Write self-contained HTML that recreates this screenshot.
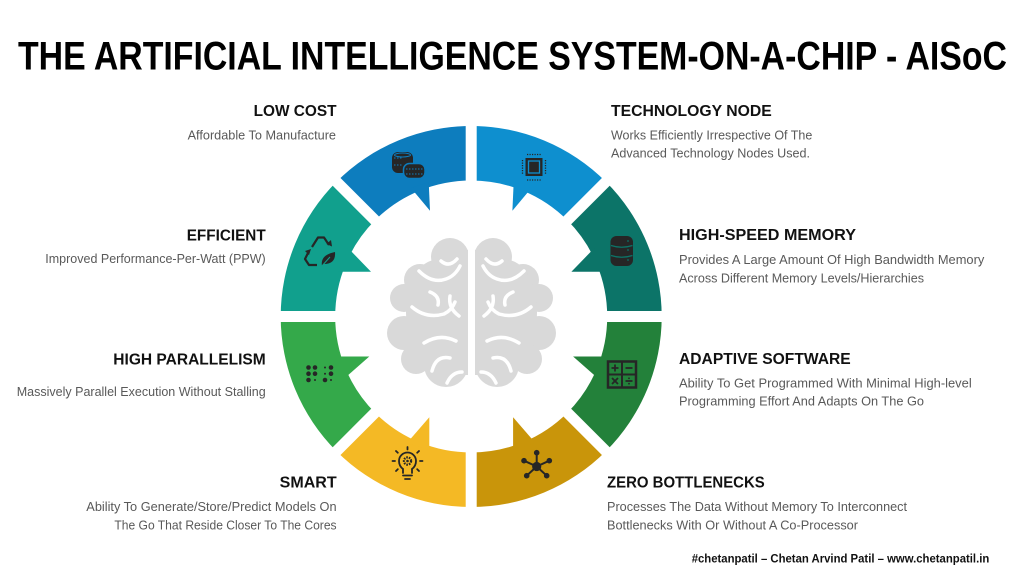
<!DOCTYPE html>
<html><head><meta charset="utf-8"><style>
html,body{margin:0;padding:0;background:#fff;}
svg{display:block;}
.h{font-family:"Liberation Sans",sans-serif;font-weight:bold;font-size:16px;fill:#111;}
.b{font-family:"Liberation Sans",sans-serif;font-size:13px;fill:#595959;}
</style></head><body>
<svg width="1024" height="576" viewBox="0 0 1024 576" xmlns="http://www.w3.org/2000/svg">
<rect width="1024" height="576" fill="#fff"/>
<text x="18" y="69.5" font-family="Liberation Sans, sans-serif" font-weight="bold" font-size="40" fill="#000" textLength="989" lengthAdjust="spacingAndGlyphs">THE ARTIFICIAL INTELLIGENCE SYSTEM-ON-A-CHIP - AISoC</text>

<!-- ring segments -->
<g>
<path fill="#0E8FCF" d="M471.2,126 A190.5,190.5 0 0 1 605.9,181.8 L567.4,220.3 A136,136 0 0 0 471.2,180.5 Z"/>
<polygon fill="#0E8FCF" points="531.4,188 512.4,210.7 513.7,182"/>
<path fill="#0C7468" d="M605.9,181.8 A190.5,190.5 0 0 1 661.7,316.5 L607.2,316.5 A136,136 0 0 0 567.4,220.3 Z"/>
<polygon fill="#0C7468" points="594.4,248 571.4,271.7 604.4,271.7"/>
<path fill="#23813A" d="M661.7,316.5 A190.5,190.5 0 0 1 605.9,451.2 L567.4,412.7 A136,136 0 0 0 607.2,316.5 Z"/>
<polygon fill="#23813A" points="604.4,356.5 573.1,356.5 596.4,377"/>
<path fill="#C9950A" d="M605.9,451.2 A190.5,190.5 0 0 1 471.2,507 L471.2,452.5 A136,136 0 0 0 567.4,412.7 Z"/>
<polygon fill="#C9950A" points="535.4,443 513.1,417.3 513.1,450"/>
<path fill="#F4B925" d="M471.2,507 A190.5,190.5 0 0 1 336.5,451.2 L375,412.7 A136,136 0 0 0 471.2,452.5 Z"/>
<polygon fill="#F4B925" points="407,443 429.3,417.3 429.3,450"/>
<path fill="#34A94A" d="M336.5,451.2 A190.5,190.5 0 0 1 280.7,316.5 L335.2,316.5 A136,136 0 0 0 375,412.7 Z"/>
<polygon fill="#34A94A" points="338,356.5 369.3,356.5 346,377"/>
<path fill="#11A08D" d="M280.7,316.5 A190.5,190.5 0 0 1 336.5,181.8 L375,220.3 A136,136 0 0 0 335.2,316.5 Z"/>
<polygon fill="#11A08D" points="348,248 371,271.7 338,271.7"/>
<path fill="#0D7DBE" d="M336.5,181.8 A190.5,190.5 0 0 1 471.2,126 L471.2,180.5 A136,136 0 0 0 375,220.3 Z"/>
<polygon fill="#0D7DBE" points="411,188 430,210.7 428.7,182"/>
</g>
<!-- dividers -->
<g stroke="#fff" stroke-width="11">
<line x1="471.2" y1="110" x2="471.2" y2="200"/>
<line x1="471.2" y1="433" x2="471.2" y2="523"/>
<line x1="265" y1="316.5" x2="355" y2="316.5"/>
<line x1="587" y1="316.5" x2="677" y2="316.5"/>
<line x1="556.05" y1="401.35" x2="616.16" y2="461.46"/>
<line x1="556.05" y1="231.65" x2="616.16" y2="171.54"/>
<line x1="386.35" y1="401.35" x2="326.24" y2="461.46"/>
<line x1="386.35" y1="231.65" x2="326.24" y2="171.54"/>
</g>

<!-- brain -->
<defs>
<g id="hemi">
  <g fill="#D9D9D9">
    <circle cx="450" cy="257" r="19"/>
    <circle cx="420" cy="280" r="16"/>
    <circle cx="404" cy="298" r="14"/>
    <circle cx="404" cy="333" r="17"/>
    <circle cx="416" cy="359" r="15"/>
    <circle cx="446" cy="365" r="22"/>
    <ellipse cx="436" cy="312" rx="30" ry="52"/>
    <rect x="440" y="250" width="28" height="125"/>
  </g>
  <g fill="none" stroke="#fff" stroke-width="3.5" stroke-linecap="round">
    <path d="M441,261 Q449,268 457,259"/>
    <path d="M419,271 Q432,284 446,279 Q455,276 460,266"/>
    <path d="M412,307 Q426,319 444,314 Q452,310 455,302"/>
    <path d="M450,296 Q448,308 459,316"/>
    <path d="M424,343 Q440,333 456,341"/>
    <path d="M432,371 Q436,355 450,358"/>
    <path d="M447,383 Q452,372 462,372"/>
    <path d="M430,292 Q440,296 438,305"/>
  </g>
  <rect x="468" y="230" width="3.5" height="165" fill="#fff"/>
</g>
</defs>
<use href="#hemi"/>
<use href="#hemi" transform="translate(943,0) scale(-1,1)"/>

<!-- icons -->
<g fill="#262626">
  <!-- coins -->
  <rect x="392" y="152" width="21" height="21" rx="6"/>
  <rect x="403.5" y="163.5" width="21.5" height="15" rx="6" stroke="#0D7DBE" stroke-width="1.5"/>
  <g stroke="#0D7DBE" stroke-width="1" fill="none">
    <line x1="394" y1="158" x2="403" y2="158" stroke-dasharray="1.5 1.5"/>
    <line x1="394" y1="165" x2="402" y2="165" stroke-dasharray="1.5 1.5"/>
    <line x1="406" y1="169" x2="423" y2="169" stroke-dasharray="1.5 1.5"/>
    <line x1="406" y1="174" x2="423" y2="174" stroke-dasharray="1.5 1.5"/>
    <ellipse cx="402.5" cy="155" rx="8" ry="2"/>
  </g>
  <!-- chip -->
  <rect x="525.5" y="158" width="17" height="18"/>
  <rect x="528.5" y="161" width="11" height="12" fill="none" stroke="#0E8FCF" stroke-width="1.3"/>
  <rect x="530.5" y="163" width="7" height="8"/>
  <g stroke="#262626" stroke-width="1.3" stroke-dasharray="1.2 1.3">
    <line x1="527" y1="154.5" x2="541" y2="154.5"/>
    <line x1="527" y1="180" x2="541" y2="180"/>
    <line x1="522.5" y1="160" x2="522.5" y2="175"/>
    <line x1="545.5" y1="160" x2="545.5" y2="175"/>
  </g>
  <!-- database -->
  <rect x="610.5" y="236" width="22.5" height="30" rx="6"/>
  <g stroke="#0C7468" stroke-width="1.3" fill="none">
    <path d="M611,245.5 Q621.7,249 632.5,245.5"/>
    <path d="M611,255.5 Q621.7,259 632.5,255.5"/>
  </g>
  <g fill="#0C7468">
    <circle cx="628" cy="250" r="0.9"/><circle cx="628" cy="260" r="0.9"/><circle cx="628" cy="241" r="0.9"/>
  </g>
  <!-- recycle -->
  <g fill="none" stroke="#262626" stroke-width="2.2" stroke-linejoin="round">
    <path d="M312,247 L318,237.5 L324,237.5 L329,245"/>
    <path d="M308,253 L305,259 L309,265 L317,265"/>
  </g>
  <polygon points="326.5,244 332,246.5 331,240"/>
  <polygon points="305,251 311,249 309,255"/>
  <path d="M322,266 Q320,255 335,252 Q336,264 324,264 Z"/>
  <line x1="321" y1="267" x2="330" y2="257" stroke="#11A08D" stroke-width="1"/>
  <!-- braille -->
  <circle cx="308.5" cy="367.5" r="2.3"/><circle cx="315" cy="367.5" r="2.3"/><circle cx="325" cy="367.5" r="1"/><circle cx="331" cy="367.5" r="2.3"/>
  <circle cx="308.5" cy="373.7" r="2.3"/><circle cx="315" cy="373.7" r="2.3"/><circle cx="325" cy="373.7" r="1"/><circle cx="331" cy="373.7" r="2.3"/>
  <circle cx="308.5" cy="380" r="2.3"/><circle cx="315" cy="380" r="1"/><circle cx="325" cy="380" r="2.3"/><circle cx="331" cy="380" r="1"/>
  <!-- calculator -->
  <rect x="608" y="361.5" width="28" height="26" fill="none" stroke="#262626" stroke-width="2.5"/>
  <line x1="622" y1="361.5" x2="622" y2="387.5" stroke="#262626" stroke-width="2"/>
  <line x1="608" y1="374.5" x2="636" y2="374.5" stroke="#262626" stroke-width="2"/>
  <g stroke="#262626" stroke-width="1.8">
    <line x1="611.5" y1="368" x2="618.5" y2="368"/><line x1="615" y1="364.5" x2="615" y2="371.5"/>
    <line x1="625.5" y1="368" x2="632.5" y2="368"/>
    <line x1="612" y1="378" x2="618" y2="384"/><line x1="618" y1="378" x2="612" y2="384"/>
    <line x1="625.5" y1="381" x2="632.5" y2="381"/>
  </g>
  <circle cx="629" cy="378.3" r="0.9"/><circle cx="629" cy="383.7" r="0.9"/>
  <!-- lightbulb -->
  <g fill="none" stroke="#262626" stroke-width="1.8" stroke-linecap="round">
    <path d="M403,473 L403,469 Q399,466 399,461 A8.5,8.5 0 1 1 416,461 Q416,466 412,469 L412,473"/>
    <line x1="403" y1="475.5" x2="412" y2="475.5"/>
    <line x1="405" y1="479" x2="410" y2="479"/>
    <line x1="407.5" y1="447" x2="407.5" y2="449.5"/>
    <line x1="396" y1="451" x2="397.8" y2="452.8"/>
    <line x1="419" y1="451" x2="417.2" y2="452.8"/>
    <line x1="392.5" y1="461" x2="395" y2="461"/>
    <line x1="420" y1="461" x2="422.5" y2="461"/>
    <line x1="396" y1="471" x2="397.8" y2="469.2"/>
    <line x1="419" y1="471" x2="417.2" y2="469.2"/>
  </g>
  <circle cx="407.5" cy="461" r="3.6" fill="none" stroke="#262626" stroke-width="2.2" stroke-dasharray="1.6 1"/>
  <circle cx="407.5" cy="461" r="1.3"/>
  <!-- network -->
  <g stroke="#262626" stroke-width="2">
    <line x1="536.7" y1="466.5" x2="536.7" y2="452.7"/>
    <line x1="536.7" y1="466.5" x2="524" y2="460.7"/>
    <line x1="536.7" y1="466.5" x2="549.3" y2="460.7"/>
    <line x1="536.7" y1="466.5" x2="526.7" y2="475.7"/>
    <line x1="536.7" y1="466.5" x2="546.7" y2="475.7"/>
  </g>
  <circle cx="536.7" cy="466.5" r="4.6"/>
  <circle cx="536.7" cy="452.7" r="2.8"/>
  <circle cx="524" cy="460.7" r="2.8"/>
  <circle cx="549.3" cy="460.7" r="2.8"/>
  <circle cx="526.7" cy="475.7" r="2.8"/>
  <circle cx="546.7" cy="475.7" r="2.8"/>
</g>

<!-- text left -->
<text class="h" x="253.6" y="116" textLength="83" lengthAdjust="spacingAndGlyphs">LOW COST</text>
<text class="b" x="187.6" y="139.5" textLength="148.4" lengthAdjust="spacingAndGlyphs">Affordable To Manufacture</text>
<text class="h" x="186.7" y="240.5" textLength="79" lengthAdjust="spacingAndGlyphs">EFFICIENT</text>
<text class="b" x="45.3" y="263" textLength="220.4" lengthAdjust="spacingAndGlyphs">Improved Performance-Per-Watt (PPW)</text>
<text class="h" x="113.3" y="364.3" textLength="152.4" lengthAdjust="spacingAndGlyphs">HIGH PARALLELISM</text>
<text class="b" x="16.7" y="396" textLength="249" lengthAdjust="spacingAndGlyphs">Massively Parallel Execution Without Stalling</text>
<text class="h" x="279.7" y="487.7" textLength="57" lengthAdjust="spacingAndGlyphs">SMART</text>
<text class="b" x="86.3" y="511" textLength="250.3" lengthAdjust="spacingAndGlyphs">Ability To Generate/Store/Predict Models On</text>
<text class="b" x="114.4" y="529.3" textLength="222.2" lengthAdjust="spacingAndGlyphs">The Go That Reside Closer To The Cores</text>

<!-- text right -->
<text class="h" x="611" y="116" textLength="160.7" lengthAdjust="spacingAndGlyphs">TECHNOLOGY NODE</text>
<text class="b" x="611" y="139.3" textLength="201.3" lengthAdjust="spacingAndGlyphs">Works Efficiently Irrespective Of The</text>
<text class="b" x="611" y="157.7" textLength="199" lengthAdjust="spacingAndGlyphs">Advanced Technology Nodes Used.</text>
<text class="h" x="679" y="240" textLength="177" lengthAdjust="spacingAndGlyphs">HIGH-SPEED MEMORY</text>
<text class="b" x="679" y="264" textLength="305.3" lengthAdjust="spacingAndGlyphs">Provides A Large Amount Of High Bandwidth Memory</text>
<text class="b" x="679" y="282.3" textLength="245" lengthAdjust="spacingAndGlyphs">Across Different Memory Levels/Hierarchies</text>
<text class="h" x="679" y="364" textLength="171.7" lengthAdjust="spacingAndGlyphs">ADAPTIVE SOFTWARE</text>
<text class="b" x="679" y="387.7" textLength="292.7" lengthAdjust="spacingAndGlyphs">Ability To Get Programmed With Minimal High-level</text>
<text class="b" x="679" y="405.7" textLength="245" lengthAdjust="spacingAndGlyphs">Programming Effort And Adapts On The Go</text>
<text class="h" x="607" y="487.7" textLength="157.7" lengthAdjust="spacingAndGlyphs">ZERO BOTTLENECKS</text>
<text class="b" x="607" y="511" textLength="300" lengthAdjust="spacingAndGlyphs">Processes The Data Without Memory To Interconnect</text>
<text class="b" x="607" y="529.3" textLength="251" lengthAdjust="spacingAndGlyphs">Bottlenecks With Or Without A Co-Processor</text>

<text x="691.7" y="562.7" font-family="Liberation Sans, sans-serif" font-weight="bold" font-size="11.5" fill="#111" textLength="297.6" lengthAdjust="spacingAndGlyphs">#chetanpatil – Chetan Arvind Patil – www.chetanpatil.in</text>
</svg>
</body></html>
